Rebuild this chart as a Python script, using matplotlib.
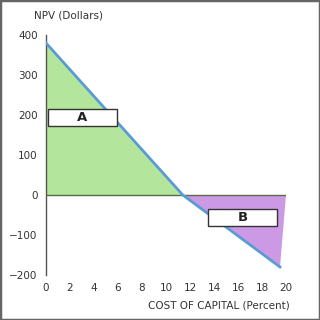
import matplotlib
matplotlib.use("Agg")
import matplotlib.pyplot as plt
from matplotlib.patches import Rectangle

# data
rates = [0, 11.4, 19.5]
npv = [380, 0, -180]
x_ticks = [0, 2, 4, 6, 8, 10, 12, 14, 16, 18, 20]
y_ticks = [-200, -100, 0, 100, 200, 300, 400]
labels = ["A", "B"]

fig = plt.figure(figsize=(3.2, 3.2), dpi=100)
fig.patch.set_facecolor("white")
fig.patches.append(Rectangle((0, 0), 1, 1, transform=fig.transFigure, fill=False,
                             edgecolor="#666666", linewidth=2.5, zorder=10))
ax = fig.add_axes([0.14375, 0.140625, 0.75, 0.75])
ax.set_xlim(0, 20)
ax.set_ylim(-200, 400)

# shaded regions
ax.fill([0, 0, rates[1]], [0, npv[0], 0], color="#b3e59c", zorder=1, linewidth=0)
ax.fill([rates[1], rates[2], 20], [0, npv[2], 0], color="#cc99e5", zorder=1, linewidth=0)
ax.axhline(0, color="#5a6b4a", linewidth=1.0, zorder=2)
ax.plot(rates, npv, color="#5b9bd5", linewidth=2, zorder=3)

for s in ["top", "right", "bottom"]:
    ax.spines[s].set_visible(False)
ax.spines["left"].set_color("#555555")
ax.spines["left"].set_linewidth(1)
ax.set_xticks(x_ticks)
ax.set_yticks(y_ticks)
ax.tick_params(length=0, labelsize=7.5, colors="#333333", pad=6)

# label boxes
boxes = [(0.17, 172.5, 5.75, 42.5), (13.5, -77.5, 5.75, 42.5)]
for (bx, by, bw, bh), lab in zip(boxes, labels):
    ax.add_patch(Rectangle((bx, by), bw, bh, facecolor="white", edgecolor="#333333",
                           linewidth=1, zorder=4))
    ax.text(bx + bw / 2, by + bh / 2, lab, ha="center", va="center", fontsize=9.5,
            fontweight="bold", color="#222222", zorder=5)

fig.text(34/320, 1 - 15/320, "NPV (Dollars)", fontsize=7.5, color="#333333", va="center", ha="left")
fig.text(290/320, 1 - 305/320, "COST OF CAPITAL (Percent)", fontsize=7.5, color="#333333", va="center", ha="right")

fig.savefig("out.png", dpi=100)
